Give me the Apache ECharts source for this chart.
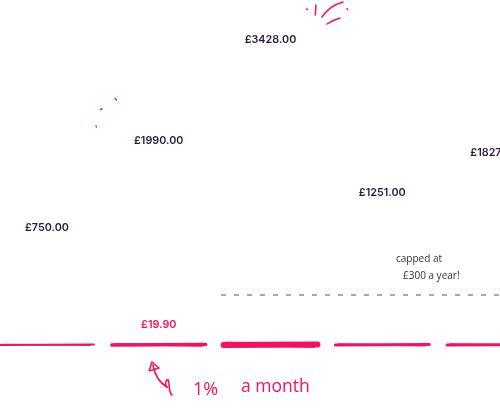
<!DOCTYPE html>
<html><head><meta charset="utf-8">
<script src="https://cdn.jsdelivr.net/npm/echarts@6/dist/echarts.min.js"></script>
<style>html,body{margin:0;padding:0;background:#fff;overflow:hidden}#c{width:500px;height:408px}</style>
</head><body><div id="c"></div>
<script>
// ---- data ----
const positions = [0, 1, 2, 3, 4];
const totals = [750, 1990, 3428, 1251, 1827];
const totalLabels = ['£750.00', '£1990.00', '£3428.00', '£1251.00', '£1827.00'];
const feeLabels = ['', '£19.90', '', '', ''];
const capNote = ['capped at', '£300 a year!'];
const rateNote = ['1%', 'a month'];

const PINK = '#f7115c';
const INK = '#2d1b3e';
const strokeW = [2, 3.5, 6, 3, 3];

const chart = echarts.init(document.getElementById('c'), null, {renderer: 'canvas'});

function curve(x1, y1, cpx1, cpy1, cpx2, cpy2, x2, y2, lw) {
  const shape = {x1, y1, x2, y2, cpx1, cpy1};
  if (cpx2 !== null) { shape.cpx2 = cpx2; shape.cpy2 = cpy2; }
  return {type: 'bezierCurve', shape, style: {stroke: PINK, lineWidth: lw || 1.5, fill: null, lineCap: 'round'}};
}
function dot(x1, y1, x2, y2) {
  return {type: 'line', shape: {x1, y1, x2, y2}, style: {stroke: PINK, lineWidth: 1.4, lineCap: 'round'}};
}

const option = {
  animation: false,
  backgroundColor: '#fff',
  grid: [{left: 0, right: 0, top: 10.5, bottom: 117, containLabel: false}],
  xAxis: [{type: 'value', min: -0.4206, max: 4.0537, show: false}],
  yAxis: [{type: 'value', min: 0, max: 4000, show: false}],
  series: [
    {
      type: 'bar', data: positions.map((p, i) => [p, totals[i]]), barWidth: 95,
      itemStyle: {color: 'rgba(0,0,0,0)'},
      label: {
        show: true, position: 'top', distance: 5,
        formatter: p => totalLabels[p.dataIndex],
        color: INK, fontFamily: 'Inter', fontWeight: 600, fontSize: 10.8
      }
    },
    {
      type: 'custom', clip: false, silent: true,
      data: positions.map(p => [p, 0]),
      renderItem: (params, api) => {
        const i = params.dataIndex;
        const cx = api.coord([api.value(0), 0])[0];
        const w = api.size([1, 0])[0];
        const half = w * 0.42;
        const y = 345;
        const lw = strokeW[i];
        const children = [
          {type: 'line', shape: {x1: cx - half, y1: y, x2: cx + half, y2: y - 0.5},
           style: {stroke: PINK, lineWidth: lw, lineCap: 'round'}},
          {type: 'line', shape: {x1: cx - half + 3, y1: y - lw * 0.3, x2: cx + half - 4, y2: y + lw * 0.2},
           style: {stroke: PINK, lineWidth: Math.max(1, lw * 0.6), lineCap: 'round', opacity: 0.9}}
        ];
        if (feeLabels[i]) {
          children.push({type: 'text', style: {
            text: feeLabels[i], x: cx, y: 325, align: 'center', verticalAlign: 'middle',
            fill: PINK, font: '600 10.8px Inter'}});
        }
        return {type: 'group', children};
      }
    }
  ],
  graphic: [
    {type: 'line', shape: {x1: 221, y1: 295, x2: 500, y2: 295},
     style: {stroke: '#555', lineWidth: 1.2, lineDash: [5, 8]}},
    {type: 'text', style: {text: capNote[0], x: 396, y: 259, verticalAlign: 'middle',
      fill: '#333', font: '400 10px "Open Sans"'}},
    {type: 'text', style: {text: capNote[1], x: 403, y: 276, verticalAlign: 'middle',
      fill: '#333', font: '400 10px "Open Sans"'}},
    {type: 'text', style: {text: rateNote[0], x: 193, y: 390, verticalAlign: 'middle',
      fill: PINK, font: '400 18px "Open Sans"'}},
    {type: 'text', style: {text: rateNote[1], x: 241, y: 387, verticalAlign: 'middle',
      fill: PINK, font: '400 17.5px "Open Sans"'}},
    // arrow
    curve(172, 395, 168, 393, 170, 381, 168, 380, 1.6),
    curve(168, 380, 165, 379, 165, 388, 167, 387, 1.6),
    curve(167, 387, 160, 383, 155, 377, 153, 365, 1.6),
    {type: 'polyline', shape: {points: [[149, 371], [152, 362], [159, 368], [149, 371]]},
     style: {stroke: PINK, lineWidth: 1.6, fill: null, lineJoin: 'round'}},
    // sparkle strokes top
    dot(306.5, 9, 307.5, 9.5),
    {type: 'line', shape: {x1: 316, y1: 5, x2: 315.3, y2: 15}, style: {stroke: PINK, lineWidth: 1.5, lineCap: 'round'}},
    curve(322, 17, 329, 6, null, null, 343, 2, 1.5),
    curve(327, 24, 333, 20, null, null, 340, 18, 1.5),
    dot(347, 8.5, 347.5, 9.5),
    // sparkle dots left
    dot(115, 98.5, 116.5, 100),
    dot(100.5, 109.5, 102, 109),
    dot(96, 126, 96.5, 127)
  ]
};
chart.setOption(option);
</script>
</body></html>
